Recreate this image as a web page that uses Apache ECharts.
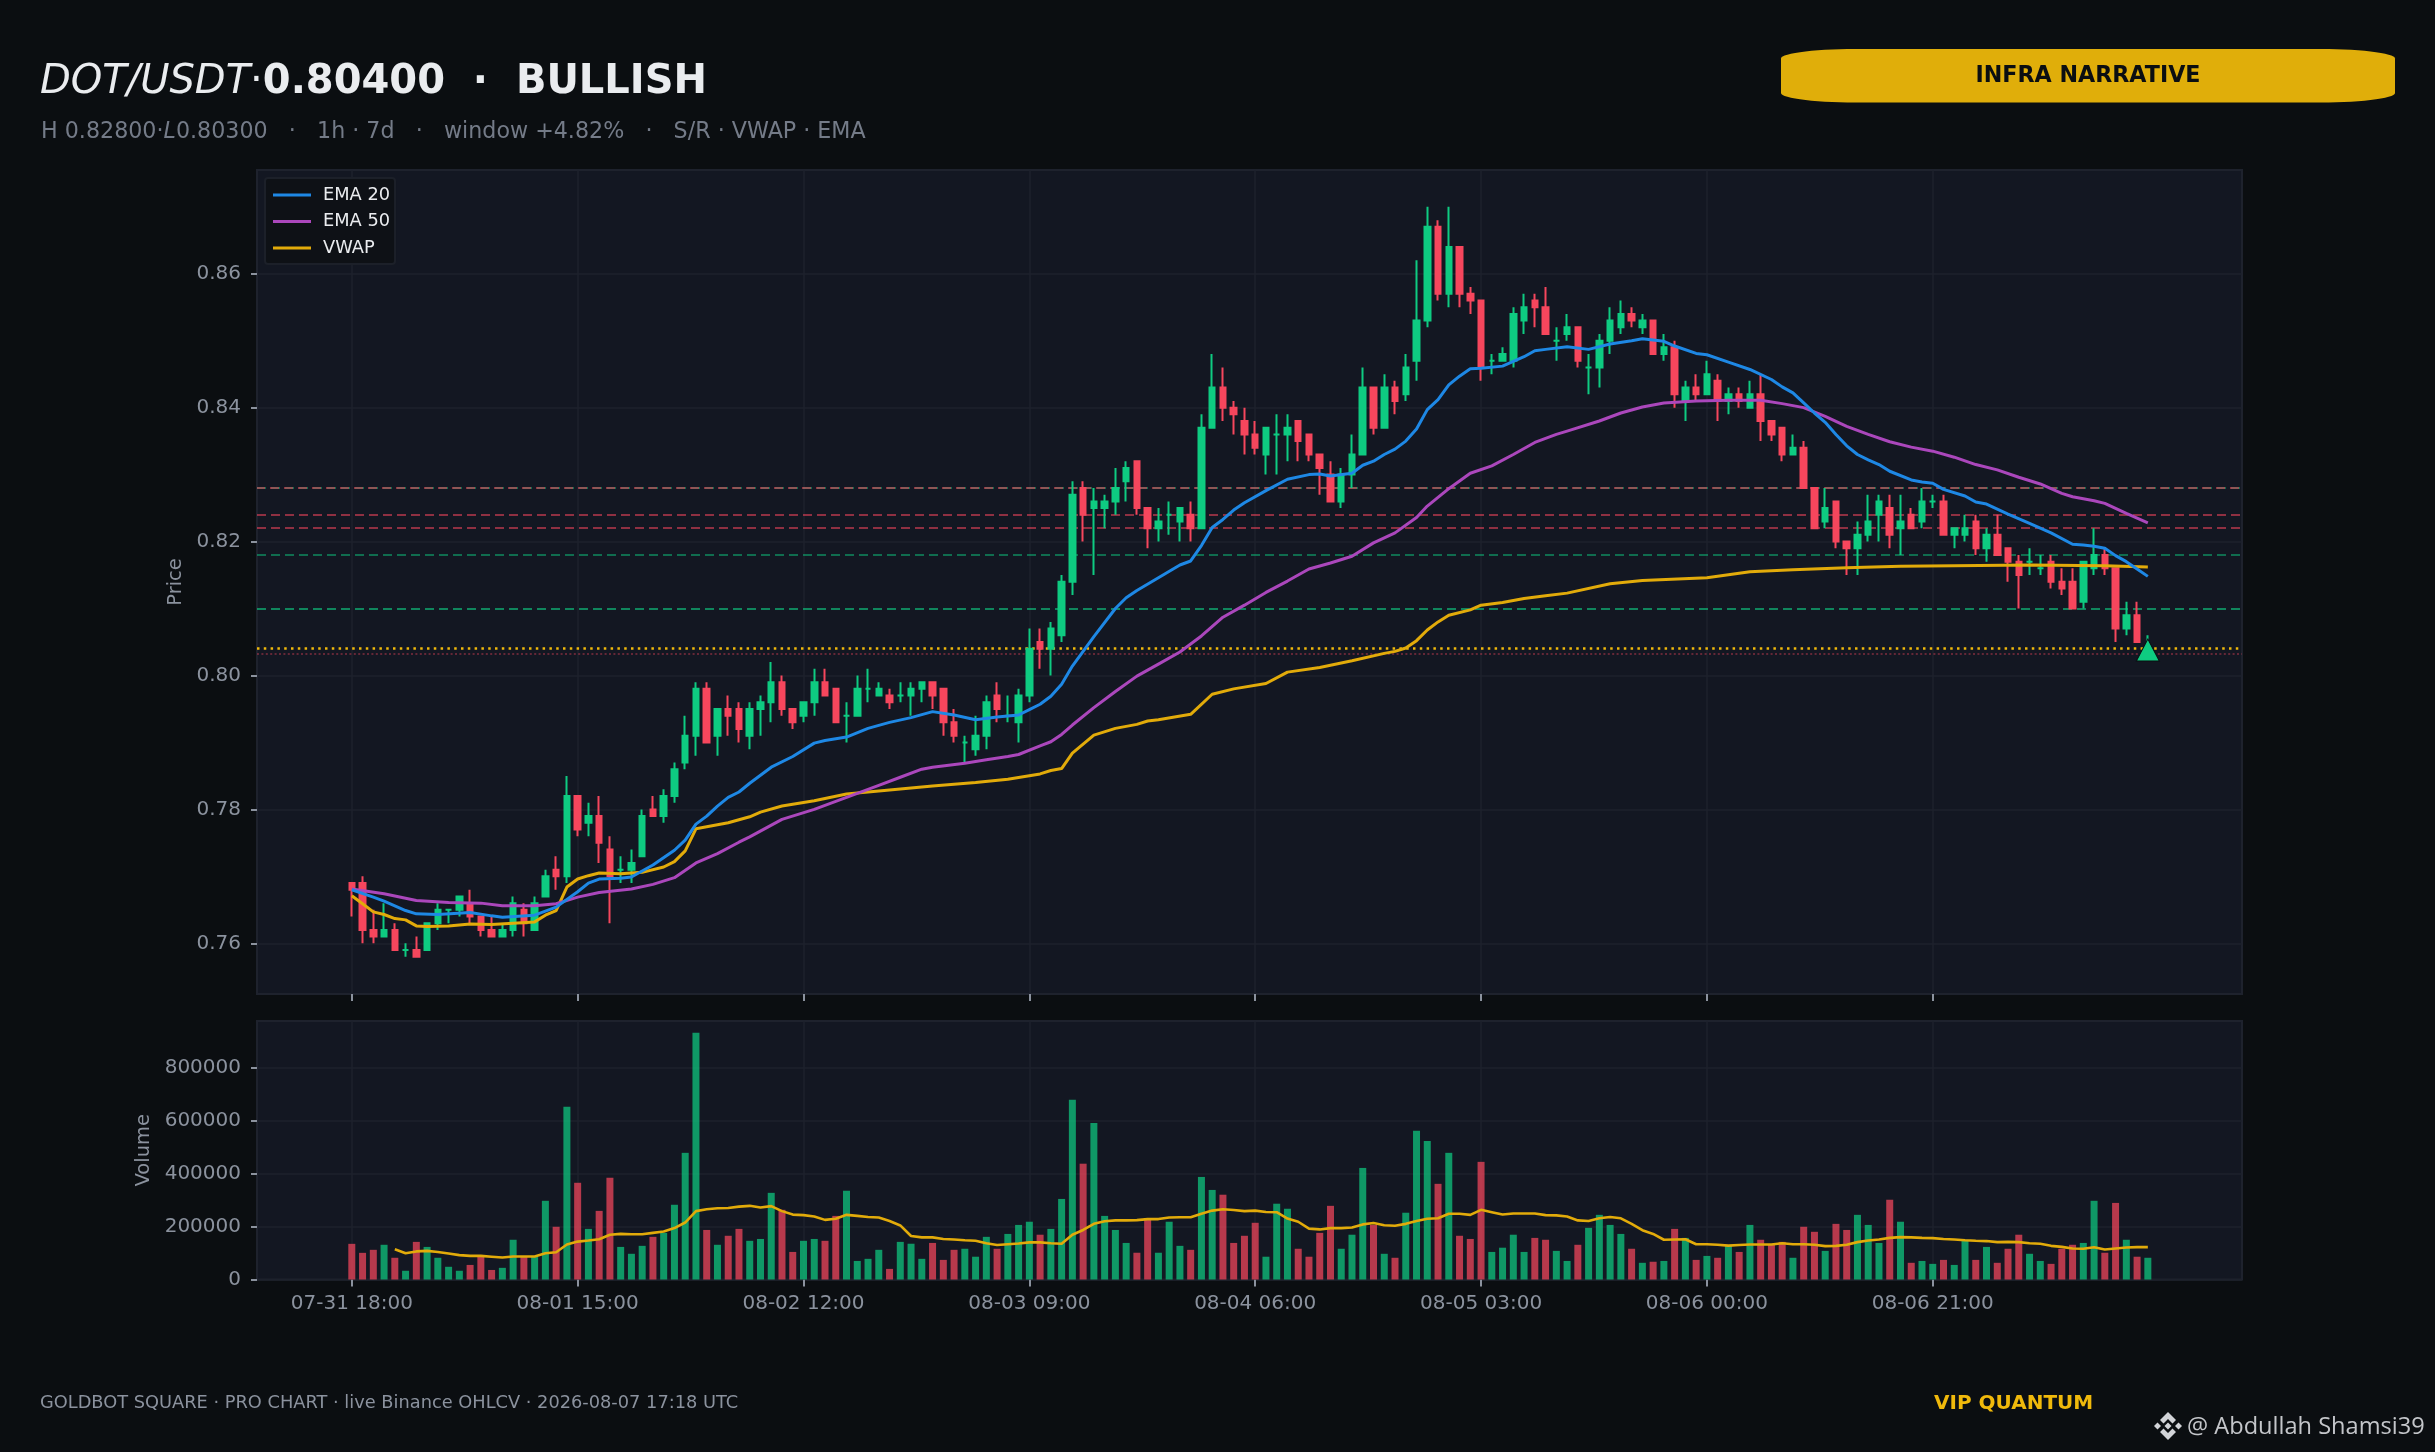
<!DOCTYPE html>
<html><head><meta charset="utf-8"><title>DOT/USDT</title>
<style>html,body{margin:0;padding:0;background:#0b0e11}#c{width:2435px;height:1452px}</style>
<script src="https://cdn.jsdelivr.net/npm/echarts@6/dist/echarts.min.js"></script></head>
<body><div id="c"></div>
<script>
const opens=[.769,.769,.762,.761,.762,.759,.759,.759,.763,.765,.765,.766,.764,.762,.761,.762,.765,.762,.767,.771,.770,.782,.778,.779,.774,.771,.771,.773,.780,.779,.782,.787,.791,.798,.791,.795,.795,.791,.795,.796,.799,.795,.794,.796,.799,.798,.794,.794,.798,.797,.797,.797,.797,.798,.799,.798,.793,.790,.789,.791,.797,.794,.793,.797,.805,.804,.806,.814,.828,.825,.825,.826,.829,.832,.825,.822,.824,.823,.824,.822,.837,.843,.840,.838,.836,.833,.836,.836,.838,.836,.833,.830,.826,.830,.833,.843,.837,.843,.842,.847,.853,.867,.857,.864,.857,.856,.847,.847,.847,.853,.856,.855,.850,.851,.852,.846,.846,.850,.852,.854,.852,.853,.848,.849,.841,.843,.842,.844,.841,.842,.840,.842,.838,.837,.833,.834,.828,.823,.826,.820,.819,.821,.824,.825,.822,.824,.823,.826,.826,.821,.821,.823,.819,.821,.819,.817,.817,.816,.817,.814,.814,.811,.816,.818,.816,.807,.809,.803];
const closes=[.768,.762,.761,.762,.759,.759,.758,.763,.765,.765,.767,.764,.762,.761,.762,.766,.763,.766,.770,.770,.782,.777,.779,.775,.770,.771,.772,.779,.779,.782,.786,.791,.798,.790,.795,.794,.792,.795,.796,.799,.795,.793,.796,.799,.797,.793,.794,.798,.798,.798,.796,.797,.798,.799,.797,.793,.791,.790,.791,.796,.795,.794,.797,.804,.804,.807,.814,.827,.824,.826,.826,.828,.831,.825,.822,.823,.824,.825,.822,.837,.843,.840,.839,.836,.834,.837,.836,.837,.835,.833,.831,.826,.830,.833,.843,.837,.843,.841,.846,.853,.867,.857,.864,.857,.856,.846,.847,.848,.854,.855,.855,.851,.850,.852,.847,.846,.850,.853,.854,.853,.853,.848,.849,.842,.843,.842,.845,.841,.842,.841,.842,.838,.836,.833,.834,.828,.822,.825,.820,.819,.821,.823,.826,.821,.823,.822,.826,.826,.821,.822,.822,.819,.821,.818,.817,.815,.817,.816,.814,.813,.810,.817,.818,.816,.807,.809,.805,.804];
const lows=[.764,.760,.760,.761,.759,.758,.758,.759,.762,.763,.764,.763,.761,.761,.761,.761,.761,.762,.767,.768,.769,.776,.776,.772,.763,.769,.769,.773,.779,.778,.781,.786,.788,.790,.788,.791,.790,.789,.791,.793,.794,.792,.793,.794,.797,.793,.790,.794,.796,.797,.795,.796,.794,.796,.795,.791,.790,.787,.788,.789,.793,.793,.790,.796,.801,.800,.805,.812,.820,.815,.822,.824,.826,.824,.819,.820,.821,.820,.820,.822,.837,.838,.836,.833,.833,.830,.830,.832,.832,.832,.827,.826,.825,.828,.833,.836,.837,.839,.841,.844,.852,.856,.855,.855,.854,.844,.845,.847,.846,.851,.852,.851,.847,.850,.846,.842,.843,.848,.851,.852,.851,.848,.847,.840,.838,.841,.842,.838,.839,.840,.840,.835,.835,.832,.833,.828,.822,.822,.819,.815,.815,.820,.820,.819,.818,.822,.822,.825,.821,.819,.820,.818,.817,.818,.814,.810,.815,.815,.813,.812,.810,.810,.815,.815,.805,.806,.805,.803];
const highs=[.769,.770,.765,.766,.763,.760,.761,.763,.766,.765,.767,.768,.764,.764,.763,.767,.766,.767,.771,.773,.785,.782,.781,.782,.776,.773,.774,.780,.782,.783,.787,.794,.799,.799,.795,.797,.796,.796,.797,.802,.800,.795,.796,.801,.801,.798,.796,.800,.801,.799,.798,.799,.799,.799,.799,.798,.795,.791,.794,.797,.799,.797,.798,.807,.807,.808,.815,.829,.829,.828,.827,.831,.832,.832,.825,.825,.826,.825,.826,.839,.848,.846,.841,.840,.838,.837,.839,.839,.838,.836,.833,.832,.831,.836,.846,.843,.845,.844,.848,.862,.870,.868,.870,.864,.858,.856,.848,.849,.855,.857,.857,.858,.852,.854,.852,.848,.851,.855,.856,.855,.854,.853,.851,.850,.844,.845,.847,.845,.843,.843,.844,.845,.838,.837,.836,.835,.828,.828,.826,.820,.823,.827,.827,.827,.827,.825,.828,.827,.827,.822,.824,.824,.822,.824,.819,.818,.819,.818,.818,.816,.816,.817,.822,.819,.816,.811,.811,.806];
const volumes=[134600,100600,112000,131000,82000,33000,142000,123000,82000,48000,33000,55000,89000,36000,44000,150000,86000,86000,297000,199000,652000,365000,191000,259000,384000,123000,97000,127000,161000,176000,282000,478000,931000,187000,131000,165000,191000,146000,153000,327000,263000,104000,146000,153000,146000,240000,335000,70000,78000,112000,40000,142000,135000,78000,138000,74000,112000,116000,86000,161000,116000,172000,206000,218000,169000,191000,304000,678000,437000,591000,240000,187000,138000,101000,225000,101000,218000,127000,112000,387000,338000,320000,138000,165000,214000,86000,286000,267000,116000,86000,176000,278000,116000,169000,421000,206000,97000,82000,252000,561000,523000,361000,478000,165000,153000,444000,104000,120000,169000,104000,157000,150000,108000,70000,131000,195000,244000,206000,172000,116000,63000,67000,70000,191000,157000,74000,89000,82000,127000,104000,206000,150000,131000,142000,82000,199000,180000,108000,210000,187000,244000,206000,138000,301000,218000,63000,70000,59000,74000,55000,150000,74000,123000,63000,116000,169000,97000,70000,59000,116000,131000,138000,297000,101000,289000,150000,86000,82000];
const volumeAvg=[[4,114000],[5,99000],[6,106000],[7,108000],[8,104000],[9,98000],[10,92000],[11,89000],[12,89000],[13,86000],[14,83000],[15,87000],[16,87000],[17,87000],[18,99000],[19,103000],[20,132000],[21,143000],[22,147000],[23,152000],[24,169000],[25,172000],[26,171000],[27,171000],[28,176000],[29,181000],[30,194000],[31,215000],[32,258000],[33,265000],[34,269000],[35,270000],[36,275000],[37,278000],[38,272000],[39,277000],[40,258000],[41,245000],[42,243000],[43,238000],[44,225000],[45,229000],[46,244000],[47,240000],[48,236000],[49,234000],[50,221000],[51,204000],[52,164000],[53,159000],[54,159000],[55,153000],[56,151000],[57,148000],[58,146000],[59,137000],[60,130000],[61,133000],[62,136000],[63,140000],[64,140000],[65,137000],[66,135000],[67,169000],[68,187000],[69,210000],[70,220000],[71,223000],[72,223000],[73,224000],[74,228000],[75,228000],[76,234000],[77,235000],[78,235000],[79,248000],[80,260000],[81,265000],[82,262000],[83,258000],[84,260000],[85,255000],[86,254000],[87,230000],[88,218000],[89,192000],[90,189000],[91,194000],[92,194000],[93,196000],[94,208000],[95,213000],[96,205000],[97,203000],[98,210000],[99,221000],[100,229000],[101,231000],[102,248000],[103,248000],[104,244000],[105,263000],[106,254000],[107,245000],[108,249000],[109,249000],[110,249000],[111,243000],[112,242000],[113,238000],[114,223000],[115,221000],[116,231000],[117,236000],[118,231000],[119,210000],[120,186000],[121,172000],[122,150000],[123,151000],[124,152000],[125,133000],[126,133000],[127,131000],[128,128000],[129,130000],[130,132000],[131,132000],[132,132000],[133,137000],[134,133000],[135,133000],[136,131000],[137,126000],[138,127000],[139,131000],[140,141000],[141,147000],[142,151000],[143,157000],[144,160000],[145,159000],[146,157000],[147,156000],[148,153000],[149,151000],[150,148000],[151,146000],[152,145000],[153,141000],[154,142000],[155,141000],[156,137000],[157,135000],[158,127000],[159,123000],[160,117000],[161,116000],[162,122000],[163,113000],[164,117000],[165,121000],[166,122000],[167,122000]];
const ema20=[[0,.7680],[2,.7669],[3,.7663],[5,.7649],[6,.7644],[8,.7643],[11,.7646],[13,.7641],[14,.7639],[17,.7642],[19,.7654],[21,.7677],[22,.7690],[23,.7696],[25,.7697],[26,.7699],[28,.7717],[30,.7739],[31,.7754],[32,.7778],[33,.7790],[34,.7805],[35,.7818],[36,.7826],[37,.7839],[39,.7863],[41,.7879],[43,.7899],[44,.7903],[46,.7908],[48,.7921],[50,.7930],[52,.7937],[54,.7946],[56,.7941],[58,.7934],[60,.7938],[62,.7941],[63,.7949],[64,.7957],[65,.7969],[66,.7987],[67,.8014],[69,.8058],[71,.8100],[72,.8116],[73,.8127],[75,.8146],[77,.8165],[78,.8171],[79,.8194],[80,.8221],[81,.8233],[82,.8247],[83,.8258],[85,.8276],[87,.8293],[89,.8300],[90,.8301],[91,.8298],[93,.8302],[94,.8314],[95,.8320],[96,.8330],[97,.8338],[98,.8350],[99,.8368],[100,.8397],[101,.8412],[102,.8434],[103,.8447],[104,.8458],[105,.8459],[107,.8462],[109,.8476],[110,.8485],[111,.8487],[113,.8491],[115,.8487],[117,.8495],[119,.8500],[120,.8503],[122,.8499],[123,.8492],[125,.8481],[126,.8479],[128,.8468],[130,.8457],[132,.8442],[133,.8431],[134,.8422],[135,.8407],[136,.8392],[137,.8378],[138,.8360],[139,.8343],[140,.8330],[141,.8322],[142,.8315],[143,.8305],[145,.8292],[146,.8289],[147,.8287],[148,.8278],[150,.8268],[151,.8259],[152,.8256],[154,.8241],[156,.8227],[158,.8213],[160,.8196],[161,.8195],[162,.8193],[163,.8190],[164,.8179],[165,.8170],[166,.8159],[167,.8148]];
const ema50=[[0,.7681],[3,.7674],[6,.7664],[9,.7661],[12,.7660],[14,.7656],[17,.7656],[19,.7659],[21,.7669],[23,.7676],[26,.7681],[28,.7688],[30,.7698],[32,.7720],[34,.7734],[36,.7751],[37,.7759],[40,.7785],[43,.7800],[46,.7818],[49,.7836],[51,.7848],[53,.7860],[54,.7863],[57,.7869],[59,.7874],[61,.7879],[62,.7882],[64,.7895],[65,.7901],[66,.7912],[67,.7926],[69,.7952],[71,.7976],[73,.7999],[75,.8017],[77,.8035],[79,.8059],[81,.8087],[83,.8105],[85,.8124],[87,.8141],[89,.8159],[91,.8168],[93,.8178],[95,.8198],[97,.8213],[99,.8236],[100,.8253],[102,.8279],[104,.8302],[106,.8313],[108,.8330],[110,.8348],[112,.8360],[113,.8365],[116,.8380],[118,.8392],[120,.8401],[122,.8407],[125,.8410],[128,.8411],[131,.8411],[133,.8406],[135,.8400],[137,.8387],[139,.8372],[141,.8360],[143,.8349],[145,.8341],[147,.8335],[149,.8326],[151,.8315],[153,.8307],[155,.8296],[157,.8286],[159,.8272],[160,.8267],[162,.8261],[163,.8257],[165,.8242],[167,.8228]];
const vwap=[[0,.7671],[1,.7659],[2,.7647],[3,.7643],[4,.7637],[5,.7635],[6,.7626],[7,.7625],[9,.7626],[11,.7629],[13,.7628],[15,.7630],[17,.7632],[18,.7642],[19,.7649],[20,.7684],[21,.7696],[22,.7701],[23,.7705],[25,.7704],[27,.7706],[29,.7714],[30,.7722],[31,.7738],[32,.7771],[33,.7774],[35,.7780],[37,.7789],[38,.7796],[40,.7805],[43,.7813],[46,.7823],[50,.7829],[54,.7835],[58,.7840],[61,.7845],[64,.7853],[65,.7858],[66,.7861],[67,.7884],[69,.7911],[71,.7921],[73,.7927],[74,.7932],[75,.7934],[78,.7942],[80,.7972],[82,.7980],[85,.7988],[87,.8005],[90,.8012],[93,.8022],[96,.8033],[97,.8036],[98,.8041],[99,.8052],[100,.8068],[101,.8080],[102,.8090],[104,.8098],[105,.8105],[107,.8109],[109,.8115],[111,.8119],[113,.8123],[117,.8137],[120,.8142],[126,.8146],[130,.8155],[134,.8158],[139,.8161],[144,.8163],[149,.8164],[156,.8165],[163,.8164],[167,.8162]];
const tickIndex=[0,21,42,63,84,105,126,147];
const tickLabels=['07-31 18:00','08-01 15:00','08-02 12:00','08-03 09:00','08-04 06:00','08-05 03:00','08-06 00:00','08-06 21:00'];
const priceTicks=[.76,.78,.80,.82,.84,.86];
const volumeTicks=[0,200000,400000,600000,800000];
const resistanceLevels=[.828,.824,.822];
const supportLevels=[.828,.818,.810];
const lastPrice=.804, sessionLow=.8032, signalPrice=.8038, signalIndex=167;

const UP='#0ecb81',DOWN='#f6465d',GRID='#1e222d',TXT='#8b929e',FONT='"DejaVu Sans"';
const chart=echarts.init(document.getElementById('c'),null,{width:2435,height:1452});
const xExt={min:-8.815,max:175.755};
const xBase=(g,lab)=>({type:'value',gridIndex:g,...xExt,
  splitLine:{show:false},
  axisLine:{show:false,onZero:false},
  axisTick:{show:true,customValues:tickIndex,length:7,lineStyle:{color:TXT,width:2}},
  axisLabel:{show:lab,customValues:tickIndex,color:TXT,fontFamily:FONT,fontSize:20,margin:14,hideOverlap:false,
    formatter:v=>tickLabels[tickIndex.indexOf(v)]||''}});
const yBase=(g,name,gap,extra)=>({type:'value',gridIndex:g,name,nameLocation:'middle',nameGap:gap,nameRotate:90,
  nameTextStyle:{color:TXT,fontFamily:FONT,fontSize:19.5},scale:false,
  splitLine:{show:true,lineStyle:{color:GRID,width:1.5}},
  axisLine:{show:false,onZero:false},...extra});
const vertLines=tickIndex.map(x=>({xAxis:x}));
const mk=(y,color,type,width,off)=>({yAxis:y,lineStyle:{color,type,width,dashOffset:off||0,opacity:1}});
const levelData=[
  ...supportLevels.map((y,k)=>mk(y,k==2?'rgba(14,203,129,.62)':'rgba(14,203,129,.48)',[9,5],2,0)),
  ...resistanceLevels.map(y=>mk(y,'rgba(246,70,93,.55)',[9,5],2,y==.828?1:0)),
  mk(lastPrice,'#f0b90b',[2.5,4.3],2.5),
  mk(sessionLow,'rgba(246,70,93,.36)',[2,2.4],2)];
// decorative outlines for the badge and the watermark icon
const ellipseRect=(x,y,w,h,rx,ry)=>{const p=[];const c=[[x+w-rx,y+ry,-90],[x+w-rx,y+h-ry,0],[x+rx,y+h-ry,90],[x+rx,y+ry,180]];
  c.forEach(([cx,cy,s])=>{for(let a=0;a<=90;a+=6){const t=(s+a)*Math.PI/180;p.push([cx+rx*Math.cos(t),cy+ry*Math.sin(t)]);}});return p;};
const ICON=[[[14,0],[22,8],[18.5,11.5],[14,7],[9.5,11.5],[6,8]],[[14,28],[22,20],[18.5,16.5],[14,21],[9.5,16.5],[6,20]],[[0,14],[3.5,10.5],[7,14],[3.5,17.5]],[[28,14],[24.5,10.5],[21,14],[24.5,17.5]],[[14,10.5],[17.5,14],[14,17.5],[10.5,14]]];
const option={
  animation:false,backgroundColor:'#0b0e11',textStyle:{fontFamily:FONT},
  title:[{text:'{a|DOT/USDT}{c|·}{b|0.80400  ·  BULLISH}',left:40,top:63,padding:0,
      textStyle:{rich:{a:{fontFamily:FONT,fontStyle:'italic',fontSize:40,color:'#eaecef',fontWeight:'normal'},
                       c:{fontFamily:FONT,fontSize:40,color:'#eaecef',fontWeight:'normal'},
                       b:{fontFamily:FONT,fontWeight:'bold',fontSize:40,color:'#eaecef'}}}},
    {text:'{n|H 0.82800·}{i|L}{n|0.80300   ·   1h · 7d   ·   window +4.82%   ·   S/R · VWAP · EMA}',left:41,top:121,padding:0,
      textStyle:{rich:{n:{fontFamily:FONT,fontSize:22.2,color:'#747b88',fontWeight:'normal'},i:{fontFamily:FONT,fontStyle:'italic',fontWeight:'normal',fontSize:22.2,color:'#747b88'}}}}],
  legend:{data:['EMA 20','EMA 50','VWAP'],orient:'vertical',left:265,top:178,padding:[8,5,7,8],itemWidth:38,itemHeight:3,itemGap:8.5,icon:'rect',
    backgroundColor:'#0e1116',borderColor:'#1c2029',borderWidth:2,borderRadius:3,selectedMode:false,z:20,
    textStyle:{color:'#eaecef',fontFamily:FONT,fontSize:17.8,padding:[0,0,0,7]}},
  grid:[{left:257,top:170,width:1985,height:824,show:true,backgroundColor:'#131722',borderColor:GRID,borderWidth:2},
        {left:257,top:1021,width:1985,height:258.5,show:true,backgroundColor:'#131722',borderColor:GRID,borderWidth:2}],
  xAxis:[xBase(0,false),xBase(1,true)],
  yAxis:[
    yBase(0,'Price',65,{min:.75243,max:.87549,splitNumber:6,
      axisTick:{show:true,customValues:priceTicks,length:6,lineStyle:{color:TXT,width:2}},
      axisLabel:{customValues:priceTicks,color:TXT,fontFamily:FONT,fontSize:20,margin:16,padding:[4,0,0,0],formatter:v=>v.toFixed(2)}}),
    yBase(1,'Volume',100,{min:0,max:975500,splitNumber:5,
      axisTick:{show:true,customValues:volumeTicks,length:6,lineStyle:{color:TXT,width:2}},
      axisLabel:{customValues:volumeTicks,color:TXT,fontFamily:FONT,fontSize:20,margin:16,padding:[4,0,0,0],formatter:v=>String(Math.round(v))}})],
  series:[
    {type:'line',name:'grid-v1',data:[],xAxisIndex:0,yAxisIndex:0,silent:true,z:1,
      markLine:{z:1,silent:true,symbol:'none',precision:5,label:{show:false},animation:false,lineStyle:{color:GRID,width:1.5,type:'solid'},data:vertLines}},
    {type:'line',name:'grid-v2',data:[],xAxisIndex:1,yAxisIndex:1,silent:true,z:1,
      markLine:{z:1,silent:true,symbol:'none',precision:5,label:{show:false},animation:false,lineStyle:{color:GRID,width:1.5,type:'solid'},data:vertLines}},
    {type:'line',name:'levels',data:[],xAxisIndex:0,yAxisIndex:0,silent:true,z:1,
      markLine:{z:2,silent:true,symbol:'none',precision:5,label:{show:false},animation:false,data:levelData}},
    {type:'candlestick',name:'DOT/USDT',xAxisIndex:0,yAxisIndex:0,z:3,barWidth:6,encode:{x:0,y:[1,2,3,4]},
      itemStyle:{color:UP,color0:DOWN,borderColor:UP,borderColor0:DOWN,borderColorDoji:UP,borderWidth:2},
      data:opens.map((o,i)=>[i,o,closes[i],lows[i],highs[i]])},
    {type:'line',name:'VWAP',data:vwap,xAxisIndex:0,yAxisIndex:0,z:4,showSymbol:false,lineStyle:{color:'#e2ab0a',width:3},itemStyle:{color:'#e2ab0a'}},
    {type:'line',name:'EMA 50',data:ema50,xAxisIndex:0,yAxisIndex:0,z:4,showSymbol:false,lineStyle:{color:'#ab47bc',width:3},itemStyle:{color:'#ab47bc'}},
    {type:'line',name:'EMA 20',data:ema20,xAxisIndex:0,yAxisIndex:0,z:4,showSymbol:false,lineStyle:{color:'#1e88e5',width:3},itemStyle:{color:'#1e88e5'}},
    {type:'scatter',name:'signal',data:[[signalIndex,signalPrice]],xAxisIndex:0,yAxisIndex:0,z:6,symbol:'triangle',symbolSize:[23,22],
      itemStyle:{color:UP,borderColor:'#0b0e11',borderWidth:1,opacity:1}},
    {type:'bar',name:'Volume',xAxisIndex:1,yAxisIndex:1,z:3,barWidth:7,
      data:volumes.map((v,i)=>({value:[i,v],itemStyle:{color:closes[i]>=opens[i]?'rgba(14,203,129,.72)':'rgba(246,70,93,.72)'}}))},
    {type:'line',name:'Volume avg',data:volumeAvg,xAxisIndex:1,yAxisIndex:1,z:4,showSymbol:false,lineStyle:{color:'#e2ab0a',width:2.6},itemStyle:{color:'#e2ab0a'}}
  ],
  graphic:[
    {type:'polygon',shape:{points:ellipseRect(1781,49,614,53.5,74,9.5)},style:{fill:'#e0ae0a'}},
    {type:'text',x:2088,y:76,style:{text:'INFRA NARRATIVE',fill:'#0b0e11',font:'bold 22.2px "DejaVu Sans"',textAlign:'center',textVerticalAlign:'middle'}},
    {type:'text',x:40,y:1403.5,style:{text:'GOLDBOT SQUARE · PRO CHART · live Binance OHLCV · 2026-08-07 17:18 UTC',fill:'#8b929e',font:'17.8px "DejaVu Sans"',textAlign:'left',textVerticalAlign:'middle'}},
    {type:'text',x:1934,y:1403.5,style:{text:'VIP QUANTUM',fill:'#f0b90b',font:'bold 20px "DejaVu Sans"',textAlign:'left',textVerticalAlign:'middle'}},
    ...ICON.map(p=>({type:'polygon',x:2154,y:1412,shape:{points:p},style:{fill:'#d2d4d8'}})),
    {type:'text',x:2187,y:1427,style:{text:'@ Abdullah Shamsi39',fill:'#c4c6ca',font:'23.6px "Open Sans"',textAlign:'left',textVerticalAlign:'middle'}}
  ]
};
chart.setOption(option);
</script></body></html>
